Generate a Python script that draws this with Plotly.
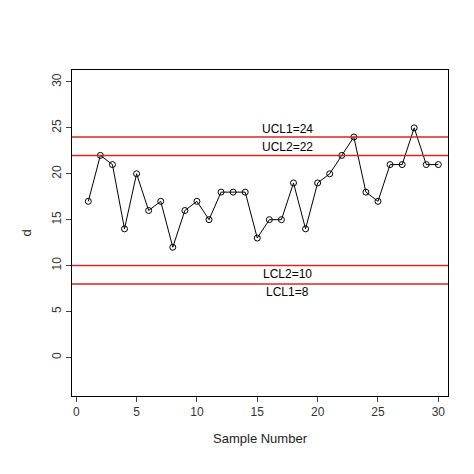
import plotly.graph_objects as go

samples = list(range(1, 31))
d_values = [17, 22, 21, 14, 20, 16, 17, 12, 16, 17, 15, 18, 18, 18, 13,
            15, 15, 19, 14, 19, 20, 22, 24, 18, 17, 21, 21, 25, 21, 21]
limits = [24, 22, 10, 8]
limit_labels = ["UCL1=24", "UCL2=22", "LCL2=10", "LCL1=8"]

fig = go.Figure()
fig.add_trace(go.Scatter(x=samples, y=d_values, mode='lines+markers',
                         line=dict(color='black', width=1),
                         marker=dict(symbol='circle-open', size=6, color='black',
                                     line=dict(width=1)),
                         showlegend=False))

for val, lab in zip(limits, limit_labels):
    fig.add_hline(y=val, line=dict(color='#d62728', width=1.5))
    upper = val > 15
    fig.add_annotation(x=17.5, y=val, text=lab, showarrow=False,
                       yshift=8 if upper else -8,
                       font=dict(size=12, color='black'))

axis_common = dict(showgrid=False, zeroline=False, showline=True, mirror=True,
                   linecolor='black', linewidth=1, ticks='outside', ticklen=5,
                   tickfont=dict(size=12, color='#333'))
fig.update_xaxes(range=[-0.35, 30.8], tickvals=[0, 5, 10, 15, 20, 25, 30],
                 title=dict(text='Sample Number', font=dict(size=13)), **axis_common)
fig.update_yaxes(range=[-4.2, 31.3], tickvals=[0, 5, 10, 15, 20, 25, 30],
                 tickangle=-90,
                 title=dict(text='d', font=dict(size=13)), **axis_common)

fig.update_layout(width=474, height=474, plot_bgcolor='white', paper_bgcolor='white',
                  margin=dict(l=64, r=34, t=62, b=86),
                  font=dict(family='Liberation Sans, Arial', color='#222'))

fig.write_html("out.html")
